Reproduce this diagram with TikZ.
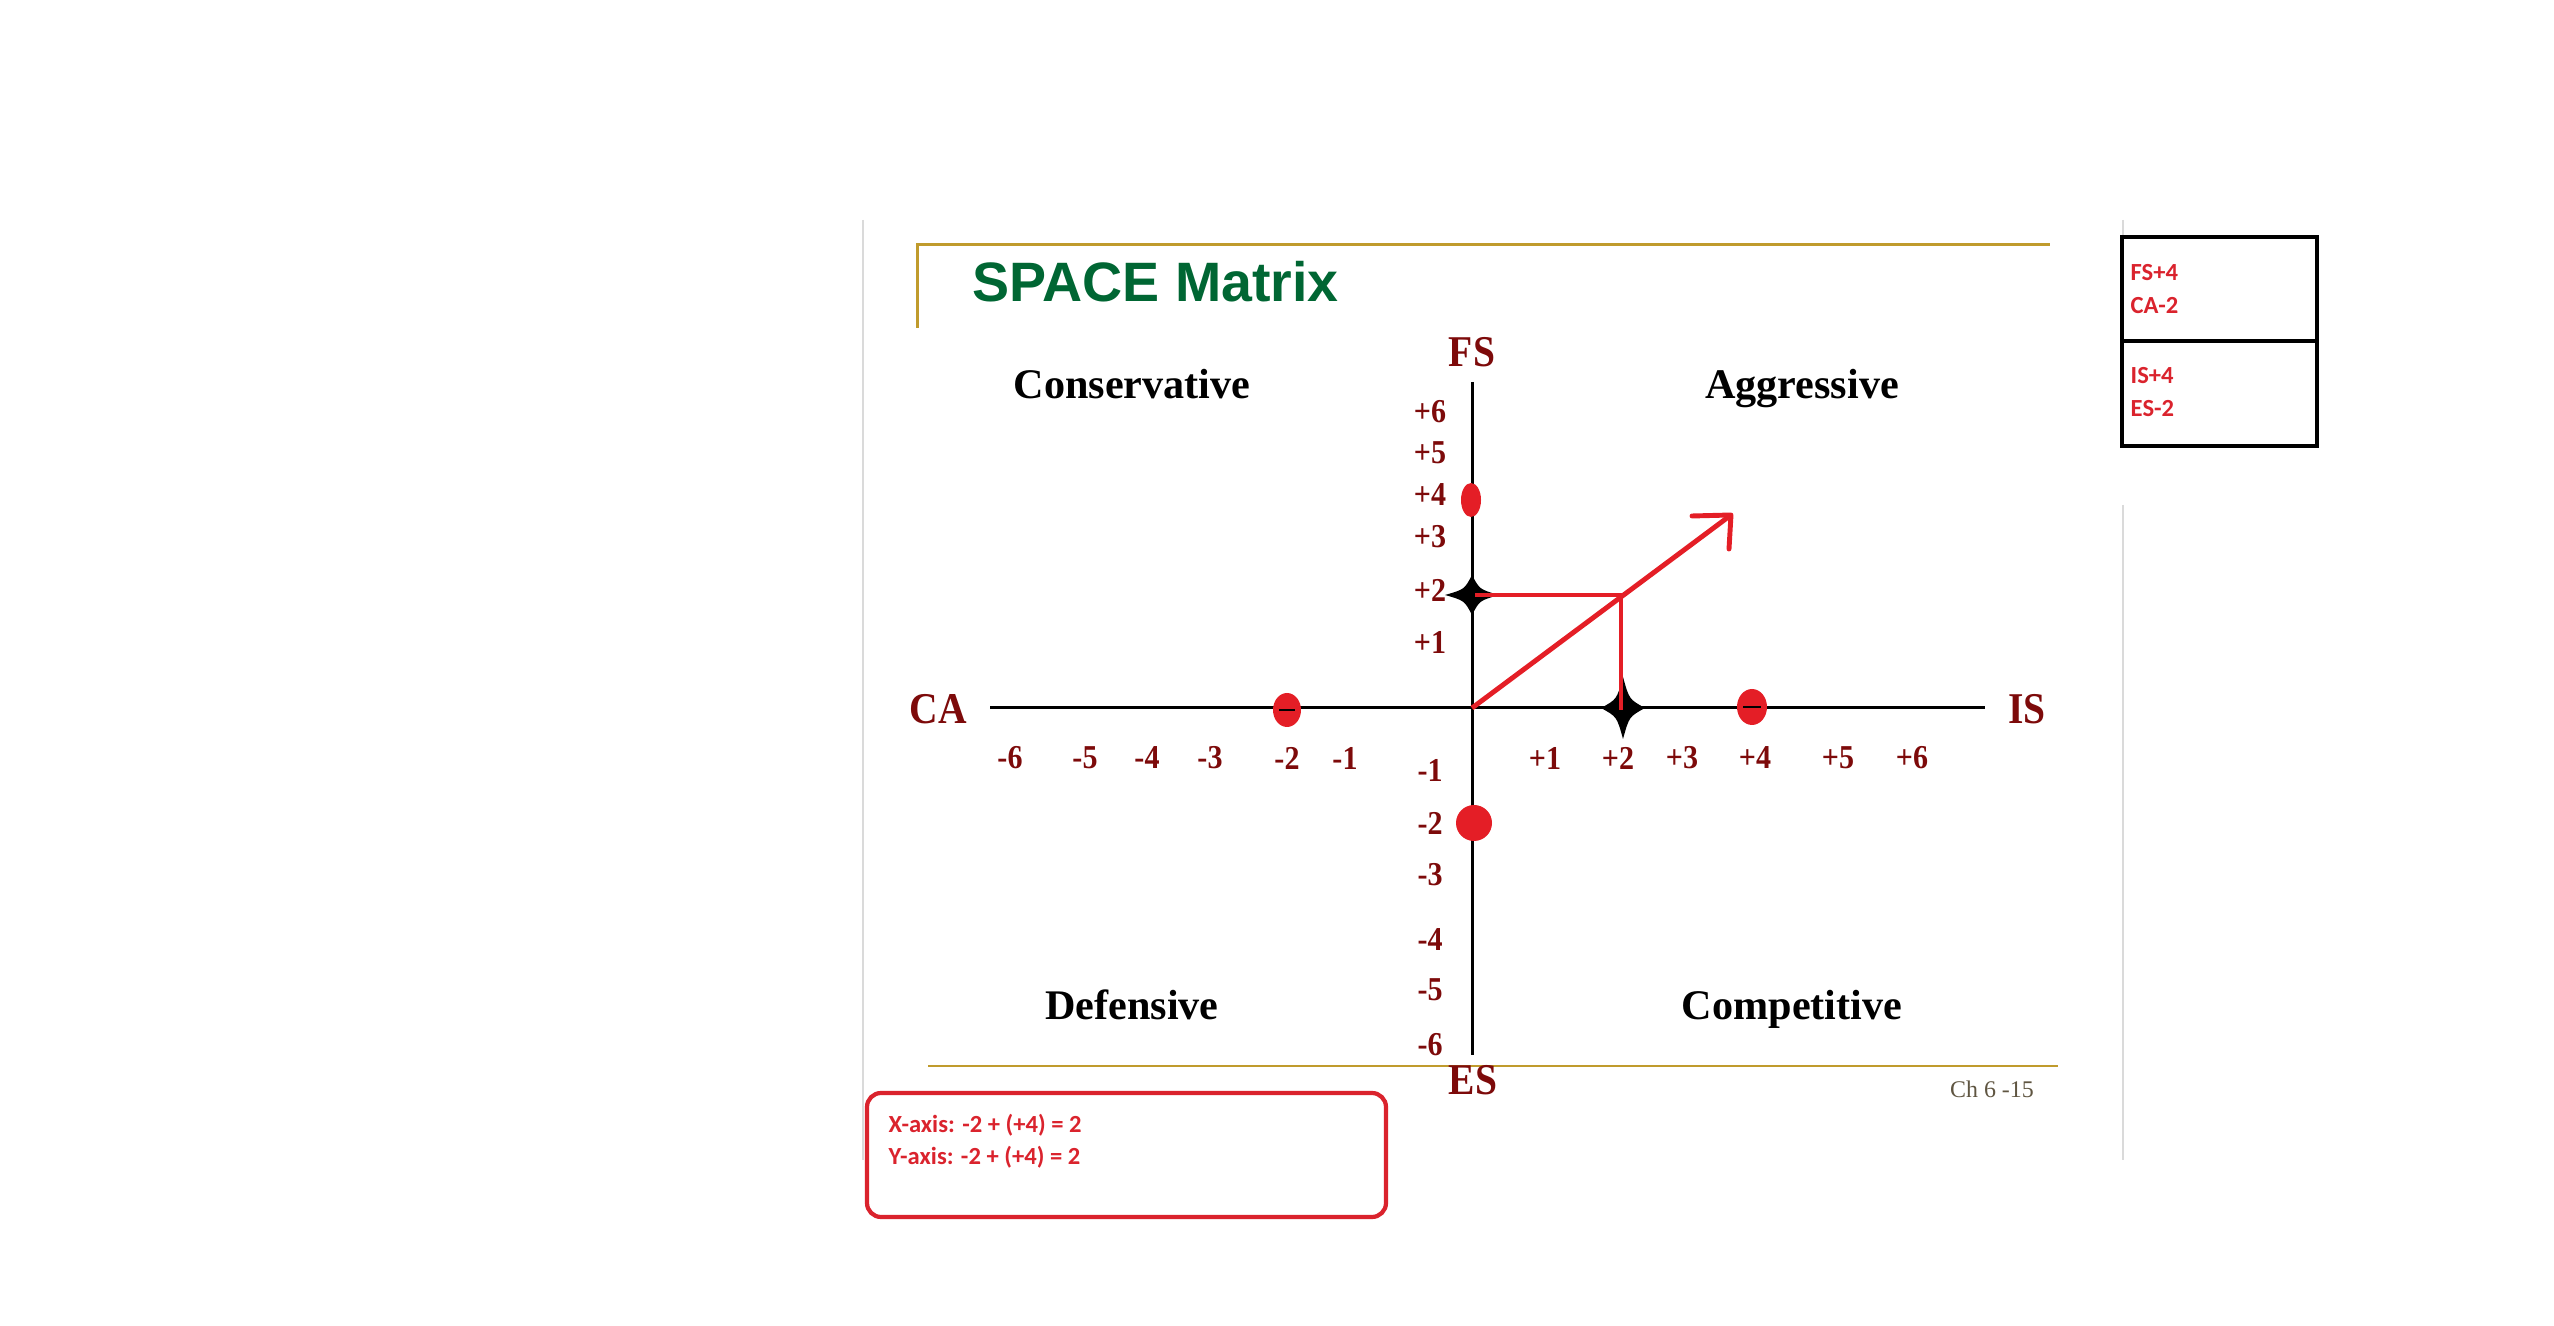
\documentclass[tikz,border=0pt]{standalone}
\usepackage{fontspec}
\setmainfont{Liberation Serif}
\newfontfamily\titlefont{Liberation Sans}
\newfontfamily\notefont{Carlito}
\newfontfamily\axisfont[FakeStretch=0.9]{Liberation Serif}
\usetikzlibrary{shapes.geometric}

\definecolor{slidegold}{RGB}{192,155,45}
\definecolor{titlegreen}{RGB}{0,102,51}
\definecolor{axisred}{RGB}{125,10,10}
\definecolor{markred}{RGB}{228,30,38}
\definecolor{notered}{RGB}{218,35,45}
\definecolor{framegray}{RGB}{218,218,218}
\definecolor{pagegray}{RGB}{95,85,65}

\tikzset{
  axislabel/.style={text=axisred,font=\axisfont\bfseries\fontsize{12.5}{14}\selectfont,inner sep=0pt},
  ticklabel/.style={text=axisred,font=\axisfont\bfseries\fontsize{9.5}{11}\selectfont,inner sep=0pt},
  quadlabel/.style={font=\bfseries\fontsize{12}{14}\selectfont,inner sep=0pt},
  dot/.style={ellipse,fill=markred,inner sep=0pt},
  axisline/.style={line width=0.85pt},
  goldline/.style={slidegold,line width=0.85pt},
  redline/.style={draw=markred,line width=1.4pt},
  notetext/.style={text=notered,font=\notefont\bfseries\fontsize{7}{9.2}\selectfont,align=left,inner sep=0pt,anchor=west},
  pics/sparkle/.style 2 args={code={
    \fill (#1,0) .. controls (0.28*#1,0.28*#2) .. (0,#2)
      .. controls (-0.28*#1,0.28*#2) .. (-#1,0)
      .. controls (-0.28*#1,-0.28*#2) .. (0,-#2)
      .. controls (0.28*#1,-0.28*#2) .. cycle;}}
}

\begin{document}
\begin{tikzpicture}[x=1cm,y=-1cm]
\useasboundingbox (0,0) rectangle (25.54,13.26);

% slide frame
\draw[framegray,line width=0.6pt] (8.63,2.20) -- (8.63,11.60);
\draw[framegray,line width=0.6pt] (21.23,2.20) -- (21.23,2.37);
\draw[framegray,line width=0.6pt] (21.23,5.05) -- (21.23,11.60);
\draw[goldline] (9.17,3.28) -- (9.17,2.45) -- (20.50,2.45);
\draw[goldline] (9.28,10.66) -- (20.58,10.66);
\node[anchor=west,text=titlegreen,font=\titlefont\bfseries\fontsize{15.8}{18}\selectfont,inner sep=0pt] (title) at (9.72,2.82) {SPACE Matrix};
\node[text=pagegray,font=\fontsize{6.8}{8}\selectfont,inner sep=0pt] (page) at (19.92,10.89) {Ch 6 -15};

% axes
\coordinate (ytop) at (14.72,3.82);
\coordinate (ybot) at (14.72,10.55);
\coordinate (xleft) at (9.90,7.08);
\coordinate (xright) at (19.85,7.08);
\draw[axisline] (ytop) -- (ybot);
\draw[axisline] (xleft) -- (xright);
\node[axislabel] (fs) at (14.72,3.52) {FS};
\node[axislabel] (es) at (14.73,10.80) {ES};
\node[axislabel] (ca) at (9.38,7.09) {CA};
\node[axislabel] (is) at (20.27,7.09) {IS};

% quadrants
\node[quadlabel] (cons) at (11.32,3.84) {Conservative};
\node[quadlabel] (aggr) at (18.02,3.89) {Aggressive};
\node[quadlabel] (defe) at (11.32,10.05) {Defensive};
\node[quadlabel] (comp) at (17.92,10.09) {Competitive};

% ticks
\foreach \t/\xp [count=\i] in {-6/10.10,-5/10.85,-4/11.47,-3/12.10,-2/12.87,-1/13.45,+1/15.45,+2/16.18,+3/16.82,+4/17.55,+5/18.38,+6/19.12}
  \node[ticklabel] (xt\i) at (\xp,7.58) {\t};
\foreach \t/\yp [count=\i] in {+6/4.12,+5/4.53,+4/4.95,+3/5.37,+2/5.90,+1/6.42,-1/7.70,-2/8.23,-3/8.75,-4/9.40,-5/9.90,-6/10.45}
  \node[ticklabel] (yt\i) at (14.30,\yp) {\t};

% scores
\node[dot,minimum width=0.20cm,minimum height=0.34cm] (fs4) at (14.71,5.00) {};
\node[dot,minimum width=0.28cm,minimum height=0.34cm] (ca2) at (12.87,7.10) {};
\node[dot,minimum width=0.30cm,minimum height=0.36cm] (is4) at (17.52,7.07) {};
\node[dot,minimum width=0.36cm,minimum height=0.36cm] (es2) at (14.74,8.23) {};
\draw[line width=0.85pt] ([xshift=-0.08cm]ca2.center) -- ([xshift=0.08cm]ca2.center);
\draw[line width=0.85pt] ([xshift=-0.09cm]is4.center) -- ([xshift=0.09cm]is4.center);
\pic at (14.72,5.95) {sparkle={0.27}{0.20}};
\pic at (16.23,7.08) {sparkle={0.22}{0.31}};

% direction vector
\coordinate (O) at (14.72,7.08);
\coordinate (H) at (14.75,5.95);
\coordinate (P) at (16.21,5.95);
\coordinate (V) at (16.21,7.10);
\coordinate (T) at (17.31,5.15);
\coordinate (B1) at (16.92,5.16);
\coordinate (B2) at (17.29,5.49);
\draw[redline] (H) -- (P) -- (V);
\draw[redline] (O) -- (T);
\draw[redline,line cap=round,line join=round] (B1) -- (T) -- (B2);

% notes
\draw[line width=1.4pt] (21.22,2.37) rectangle (23.17,4.46);
\draw[line width=1.4pt] (21.22,3.41) -- (23.17,3.41);
\node[notetext] (fsca) at (21.30,2.89) {FS+4\\CA-2};
\node[notetext] (ises) at (21.30,3.92) {IS+4\\ES-2};
\draw[notered,line width=1.2pt,rounded corners=0.14cm] (8.67,10.93) rectangle (13.86,12.17);
\node[notetext] (sums) at (8.88,11.41) {X-axis: -2 + (+4) = 2\\Y-axis: -2 + (+4) = 2};
\end{tikzpicture}
\end{document}
